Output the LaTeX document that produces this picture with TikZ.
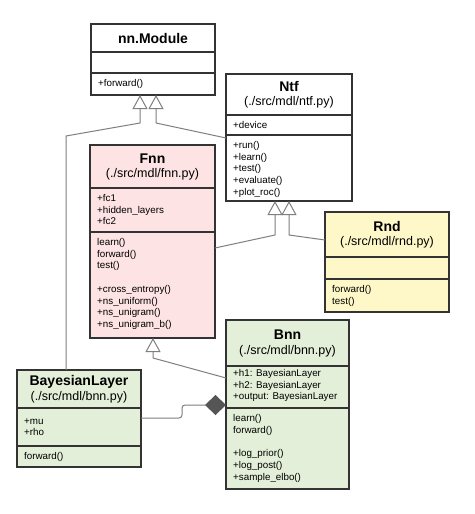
\documentclass[tikz,border=0pt]{standalone}
\usepackage{fontspec}
\setmainfont{Liberation Sans}
\usetikzlibrary{arrows.meta,calc}
\definecolor{boxline}{HTML}{333333}
\definecolor{conn}{HTML}{7F7F7F}
\definecolor{diam}{HTML}{555555}
\definecolor{pinkfill}{HTML}{FDE3E3}
\definecolor{yellowfill}{HTML}{FEF8C8}
\definecolor{greenfill}{HTML}{E3EFD8}
\newcommand\classlines[3]{%
  \foreach \tx [count=\i] in {#3} \node[txt] at (#1,{#2+11.7*(\i-1)}) {\tx};}
\begin{document}
\begin{tikzpicture}[x=1pt,y=-1pt,
  box/.style={draw=boxline,line width=1.2pt,anchor=north west,inner sep=0pt,outer sep=0pt},
  divl/.style={draw=boxline,line width=1.2pt},
  ttl/.style={font=\fontsize{14}{16}\selectfont\bfseries,anchor=base,inner sep=0pt},
  subt/.style={font=\fontsize{12.5}{15}\selectfont,anchor=base,inner sep=0pt},
  txt/.style={font=\fontsize{9.8}{11.7}\selectfont,anchor=base west,inner sep=0pt},
  inh/.style={draw=conn,line width=1pt,-{Triangle[open,length=14pt,width=15pt,fill=white]}},
  comp/.style={draw=conn,line width=1pt,rounded corners=3pt,-{Diamond[length=21pt,width=20pt,fill=diam,color=diam]}},
]
\useasboundingbox (0,0) rectangle (474,514);
\fill[white] (0,0) rectangle (474,514);

% nn.Module
\node[box,fill=white,minimum width=124pt,minimum height=71pt] (nnmod) at (91,24) {};
\draw[divl] ($(nnmod.north west)+(0,28)$) -- ($(nnmod.north east)+(0,28)$);
\draw[divl] ($(nnmod.north west)+(0,49)$) -- ($(nnmod.north east)+(0,49)$);
\node[ttl] (nnmodt) at (153,43) {nn.Module};
\classlines{98}{86.5}{+forward()}

% Ntf
\node[box,fill=white,minimum width=126pt,minimum height=127pt] (ntf) at (226,74) {};
\draw[divl] ($(ntf.north west)+(0,41)$) -- ($(ntf.north east)+(0,41)$);
\draw[divl] ($(ntf.north west)+(0,61)$) -- ($(ntf.north east)+(0,61)$);
\node[ttl] (ntft) at (289,91) {Ntf};
\node[subt] (ntfs) at (289,105.5) {(./src/mdl/ntf.py)};
\classlines{233}{128.5}{+device}
\classlines{233}{148.5}{+run(),+learn(),+test(),+evaluate(),+plot\_roc()}

% Fnn
\node[box,fill=pinkfill,minimum width=125pt,minimum height=193pt] (fnn) at (90,145) {};
\draw[divl] ($(fnn.north west)+(0,43)$) -- ($(fnn.north east)+(0,43)$);
\draw[divl] ($(fnn.north west)+(0,87)$) -- ($(fnn.north east)+(0,87)$);
\node[ttl] (fnnt) at (152.5,163) {Fnn};
\node[subt] (fnns) at (152.5,177.5) {(./src/mdl/fnn.py)};
\classlines{97}{201.5}{+fc1,+hidden\_layers,+fc2}
\classlines{97}{245.5}{learn(),forward(),test()}
\classlines{97}{292.3}{+cross\_entropy(),+ns\_uniform(),+ns\_unigram(),+ns\_unigram\_b()}

% Rnd
\node[box,fill=yellowfill,minimum width=124pt,minimum height=100pt] (rnd) at (325,212) {};
\draw[divl] ($(rnd.north west)+(0,45)$) -- ($(rnd.north east)+(0,45)$);
\draw[divl] ($(rnd.north west)+(0,67)$) -- ($(rnd.north east)+(0,67)$);
\node[ttl] (rndt) at (387,231) {Rnd};
\node[subt] (rnds) at (387,245.5) {(./src/mdl/rnd.py)};
\classlines{332}{292.5}{forward(),test()}

% Bnn
\node[box,fill=greenfill,minimum width=123pt,minimum height=169pt] (bnn) at (226,320) {};
\draw[divl] ($(bnn.north west)+(0,46)$) -- ($(bnn.north east)+(0,46)$);
\draw[divl] ($(bnn.north west)+(0,88)$) -- ($(bnn.north east)+(0,88)$);
\node[ttl] (bnnt) at (287.5,339.5) {Bnn};
\node[subt] (bnns) at (287.5,354) {(./src/mdl/bnn.py)};
\classlines{233}{376.5}{+h1: BayesianLayer,+h2: BayesianLayer,+output: BayesianLayer}
\classlines{233}{421.5}{learn(),forward()}
\classlines{233}{456.6}{+log\_prior(),+log\_post(),+sample\_elbo()}

% BayesianLayer
\node[box,fill=greenfill,minimum width=124pt,minimum height=97pt] (bl) at (17,370) {};
\draw[divl] ($(bl.north west)+(0,38)$) -- ($(bl.north east)+(0,38)$);
\draw[divl] ($(bl.north west)+(0,76)$) -- ($(bl.north east)+(0,76)$);
\node[ttl] (blt) at (79,385.5) {BayesianLayer};
\node[subt] (bls) at (79,400) {(./src/mdl/bnn.py)};
\classlines{24}{424}{+mu,+rho}
\classlines{24}{459.5}{forward()}

% connectors
\draw[inh] ($(bl.north west)+(49,0)$) -- (66,136) -- (140,123) -- ($(nnmod.south west)+(49,0)$);
\draw[inh] ($(ntf.north west)+(0,64)$) -- (156,123) -- ($(nnmod.south west)+(65,0)$);
\draw[inh] ($(fnn.north east)+(0,103)$) -- (275,235) -- ($(ntf.south west)+(49,0)$);
\draw[inh] ($(rnd.north west)+(0,28)$) -- (289,235) -- ($(ntf.south west)+(63,0)$);
\draw[inh] ($(bnn.north west)+(0,58)$) -- (153,358) -- ($(fnn.south west)+(63,0)$);
\draw[comp] ($(bl.north east)+(0,48)$) -- (182,418) -- (182,405) -- ($(bnn.north west)+(0,85)$);
\end{tikzpicture}
\end{document}
